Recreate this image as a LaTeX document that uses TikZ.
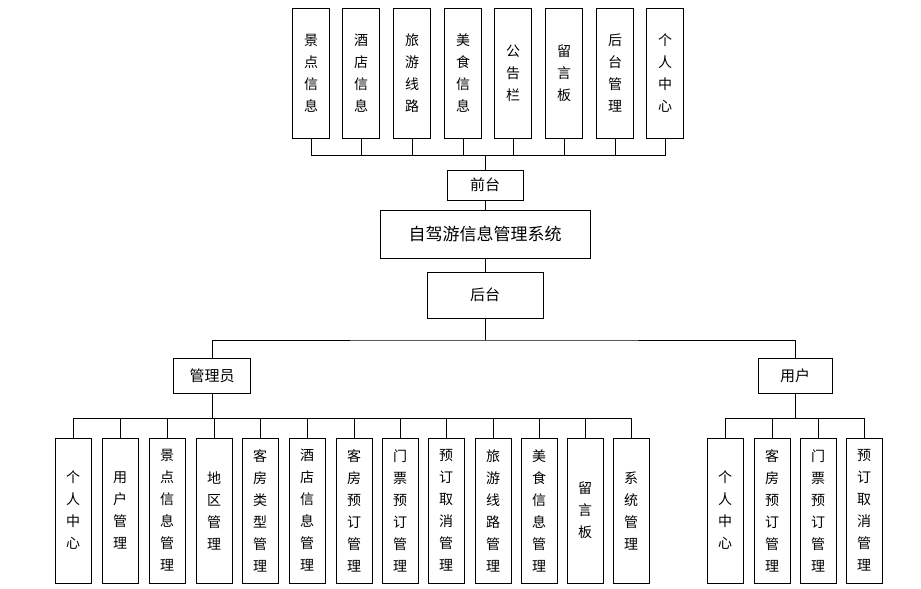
\documentclass[tikz,border=0pt]{standalone}
\usepackage{fontspec}
\newfontfamily\cjk{Noto Sans CJK SC}
\begin{document}
\begin{tikzpicture}[x=1pt,y=-1pt,
  vbox/.style={draw,line width=0.8pt,minimum width=37pt,inner sep=0pt,align=center,font=\cjk\fontsize{14}{22}\selectfont},
  hbox/.style={draw,line width=0.8pt,inner sep=0pt,font=\cjk\fontsize{15}{18}\selectfont},
  ln/.style={line width=0.8pt}]
\useasboundingbox (0,0) rectangle (921,589);
% top
\foreach \n/\x/\t in {t1/311/景\\点\\信\\息,t2/361/酒\\店\\信\\息,t3/412/旅\\游\\线\\路,t4/463/美\\食\\信\\息,t5/513/公\\告\\栏,t6/564/留\\言\\板,t7/615/后\\台\\管\\理,t8/665/个\\人\\中\\心}
  \node[vbox,minimum height=130pt] (\n) at (\x,73) {\t};
\node[hbox,minimum width=76pt,minimum height=30pt] (qt) at (485,185) {前台};
\node[hbox,minimum width=210pt,minimum height=48pt,font=\cjk\fontsize{17}{20}\selectfont] (sys) at (485,234) {自驾游信息管理系统};
\node[hbox,minimum width=116pt,minimum height=46pt] (ht) at (485,295) {后台};
\node[hbox,minimum width=77pt,minimum height=35pt] (gly) at (212,376) {管理员};
\node[hbox,minimum width=74pt,minimum height=35pt] (yh) at (795,376) {用户};
\coordinate (tb) at (485,155);
\foreach \n in {t1,t2,t3,t4,t5,t6,t7,t8} \draw[ln] (\n.south) |- (tb);
\draw[ln] (tb) -- (qt.north);
\draw[ln] (qt.south) -- (sys.north);
\draw[ln] (sys.south) -- (ht.north);
\coordinate (mb) at (485,340);
\draw[ln] (ht.south) -- (mb);
\draw[ln] (gly.north) |- (mb) -| (yh.north);
% admin
\foreach \n/\x/\t in {a1/73/个\\人\\中\\心,a2/120/用\\户\\管\\理,a3/167/景\\点\\信\\息\\管\\理,a4/214/地\\区\\管\\理,a5/260/客\\房\\类\\型\\管\\理,a6/307/酒\\店\\信\\息\\管\\理,a7/354/客\\房\\预\\订\\管\\理,a8/400/门\\票\\预\\订\\管\\理,a9/446/预\\订\\取\\消\\管\\理,a10/493/旅\\游\\线\\路\\管\\理,a11/539/美\\食\\信\\息\\管\\理,a12/585/留\\言\\板,a13/631/系\\统\\管\\理}
  \node[vbox,minimum width=36pt,minimum height=145pt] (\n) at (\x,510.5) {\t};
\coordinate (ab) at (212,418);
\draw[ln] (gly.south) -- (ab);
\foreach \n in {a1,a2,a3,a4,a5,a6,a7,a8,a9,a10,a11,a12,a13} \draw[ln] (\n.north) |- (ab);
% user
\foreach \n/\x/\t in {u1/725/个\\人\\中\\心,u2/772/客\\房\\预\\订\\管\\理,u3/818/门\\票\\预\\订\\管\\理,u4/864/预\\订\\取\\消\\管\\理}
  \node[vbox,minimum width=36pt,minimum height=145pt] (\n) at (\x,510.5) {\t};
\coordinate (ub) at (795,418);
\draw[ln] (yh.south) -- (ub);
\foreach \n in {u1,u2,u3,u4} \draw[ln] (\n.north) |- (ub);
\end{tikzpicture}
\end{document}
